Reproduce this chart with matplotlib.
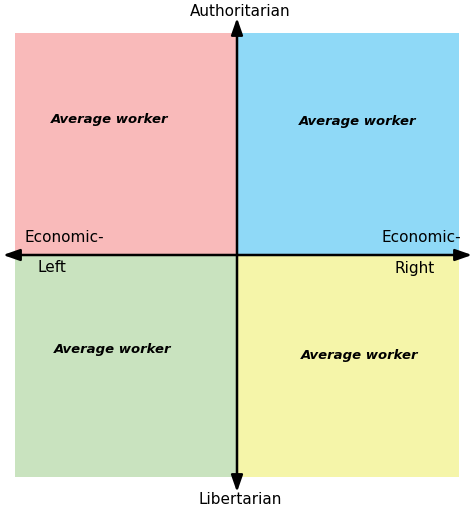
import matplotlib.pyplot as plt
from matplotlib.patches import Rectangle

# quadrants: (label, colour, label x, label y)
quad_names = ["Average worker", "Average worker", "Average worker", "Average worker"]
quad_colors = ["#f9baba", "#8fd9f7", "#c9e3bf", "#f5f5a9"]
quad_boxes = [(15, 33), (237, 33), (15, 255), (237, 255)]
label_pos = [(110, 119), (358, 121), (113, 350), (360, 355)]

fig = plt.figure(figsize=(4.74, 5.15), dpi=100)
ax = fig.add_axes([0, 0, 1, 1])
ax.set_xlim(0, 474)
ax.set_ylim(515, 0)
ax.axis('off')

for (x0, y0), c, name, (lx, ly) in zip(quad_boxes, quad_colors, quad_names, label_pos):
	ax.add_patch(Rectangle((x0, y0), 222, 222, facecolor=c, edgecolor='none'))
	ax.text(lx, ly, name, fontsize=9.5, fontweight='bold', fontstyle='italic',
			ha='center', va='center')

# axes arrows
arr = dict(arrowstyle='-|>,head_length=1.0,head_width=0.35', color='black', lw=1.8, shrinkA=0, shrinkB=0)
for end in [(3, 255), (472, 255), (237, 18), (237, 492)]:
	ax.annotate('', xy=end, xytext=(237, 255), arrowprops=arr)

ax.text(240, 11, "Authoritarian", fontsize=11, ha='center', va='center')
ax.text(240, 500, "Libertarian", fontsize=11, ha='center', va='center')
ax.text(25, 238, "Economic-", fontsize=11, ha='left', va='center')
ax.text(38, 268, "Left", fontsize=11, ha='left', va='center')
ax.text(461, 238, "Economic-", fontsize=11, ha='right', va='center')
ax.text(435, 269, "Right", fontsize=11, ha='right', va='center')

fig.savefig('out.png', dpi=100, facecolor='white')
